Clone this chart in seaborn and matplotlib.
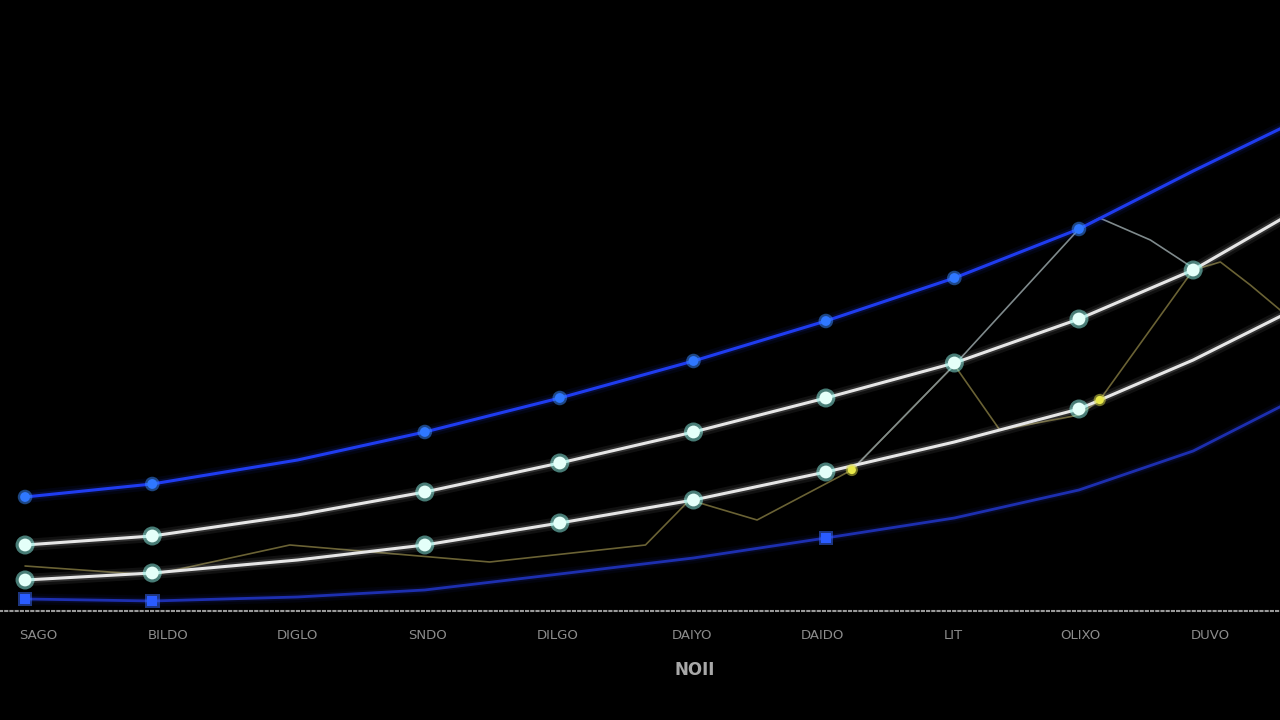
import numpy as np
import pandas as pd
import matplotlib
matplotlib.use("Agg")
import matplotlib.pyplot as plt
import seaborn as sns

# x positions (index units) and tick labels
x_main = [0, 0.98, 2.1, 3.08, 4.12, 5.15, 6.17, 7.16, 8.12, 9.0, 10.0]
tick_pos = [0.1, 1.1, 2.1, 3.1, 4.1, 5.14, 6.14, 7.15, 8.13, 9.13]
tick_labels = ["SAGO", "BILDO", "DIGLO", "SNDO", "DILGO", "DAIYO", "DAIDO", "LIT", "OLIXO", "DUVO"]
x_title = "NOII"

# main smooth series
blue_top = [22.8, 25.4, 30.2, 35.8, 42.6, 50.0, 58.0, 66.6, 76.4, 88.0, 100.6]
white_up = [13.2, 15.0, 19.2, 23.8, 29.6, 35.8, 42.6, 49.6, 58.4, 68.2, 83.2]
white_lo = [6.2, 7.6, 10.2, 13.2, 17.6, 22.2, 27.8, 33.8, 40.4, 50.2, 63.2]
blue_low = [2.4, 2.0, 2.8, 4.2, 7.4, 10.6, 14.6, 18.6, 24.2, 32.0, 45.2]

# which points carry a marker
mk_blue_top = [0, 1, 3, 4, 5, 6, 7, 8]
mk_white_up = [0, 1, 3, 4, 5, 6, 7, 8, 9]
mk_white_lo = [0, 1, 3, 4, 5, 6, 8]
mk_blue_low = [0, 1, 6]

# thin irregular series
olive_x = [0, 0.98, 2.04, 3.58, 4.78, 5.12, 5.64, 6.37, 7.16, 7.51, 8.12, 8.28, 9.0, 9.21, 9.44, 9.67]
olive_y = [9.0, 7.2, 13.2, 9.8, 13.2, 22.2, 18.2, 28.2, 49.2, 36.2, 39.2, 42.2, 68.2, 69.8, 65.2, 60.2]
gray_x = [6.37, 7.16, 8.12, 8.28, 8.67, 9.0]
gray_y = [28.2, 49.2, 76.4, 78.6, 74.2, 68.6]
yellow_x = [6.37, 8.28]
yellow_y = [28.2, 42.2]

sns.set_style("dark", {"axes.facecolor": "black", "figure.facecolor": "black"})

fig = plt.figure(figsize=(12.8, 7.2), dpi=100)
ax = fig.add_axes([0, 0.1514, 1, 0.8486])
ax.set_facecolor("black")


def glow_line(x, y, color, lw, glow=True):
    if glow:
        for w, a in [(lw * 4, 0.07), (lw * 2.2, 0.15)]:
            sns.lineplot(x=x, y=y, color=color, linewidth=w, alpha=a, ax=ax, sort=False)
    sns.lineplot(x=x, y=y, color=color, linewidth=lw, ax=ax, sort=False)


def glow_marks(x, y, core, halo, size, marker="o"):
    sns.scatterplot(x=x, y=y, color=halo, s=size * 2.2, alpha=0.5, edgecolor="none", marker=marker, ax=ax, zorder=4)
    sns.scatterplot(x=x, y=y, color=core, s=size, edgecolor="none", marker=marker, ax=ax, zorder=5)


glow_line(olive_x, olive_y, "#6a6234", 1.2, glow=False)
glow_line(gray_x, gray_y, "#7f8a8c", 1.2, glow=False)

glow_line(x_main, blue_low, "#1d2fb0", 2.0)
glow_line(x_main, white_lo, "#e6e6e6", 2.2)
glow_line(x_main, white_up, "#e6e6e6", 2.2)
glow_line(x_main, blue_top, "#1f3cf0", 2.2)

glow_marks([x_main[i] for i in mk_blue_top], [blue_top[i] for i in mk_blue_top], "#2f78ff", "#3a8bff", 50)
glow_marks([x_main[i] for i in mk_white_up], [white_up[i] for i in mk_white_up], "#e4fff9", "#8ff7ea", 85)
glow_marks([x_main[i] for i in mk_white_lo], [white_lo[i] for i in mk_white_lo], "#e4fff9", "#8ff7ea", 85)
glow_marks([x_main[i] for i in mk_blue_low], [blue_low[i] for i in mk_blue_low], "#2a5cff", "#3a6bff", 50, marker="s")
glow_marks(yellow_x, yellow_y, "#e8e84a", "#d8d840", 35)

ax.set_xlim(-0.193, 9.669)
ax.set_ylim(0, 122.2)
ax.set_yticks([])
ax.set_xticks(tick_pos)
ax.set_xticklabels(tick_labels, color="#8c8c8c", fontsize=9.5)
ax.tick_params(axis="x", length=0, pad=13)
ax.set_xlabel(x_title, color="#a8a8a8", fontsize=12, fontweight="bold")
ax.xaxis.set_label_coords(0.543, -0.082)
ax.set_ylabel("")
ax.grid(False)
for side in ["top", "left", "right"]:
    ax.spines[side].set_visible(False)
ax.spines["bottom"].set_color("#9a9a9a")
ax.spines["bottom"].set_linestyle((0, (1, 1.5)))
ax.spines["bottom"].set_linewidth(1.5)

fig.savefig("out.png", dpi=100, facecolor="black")
